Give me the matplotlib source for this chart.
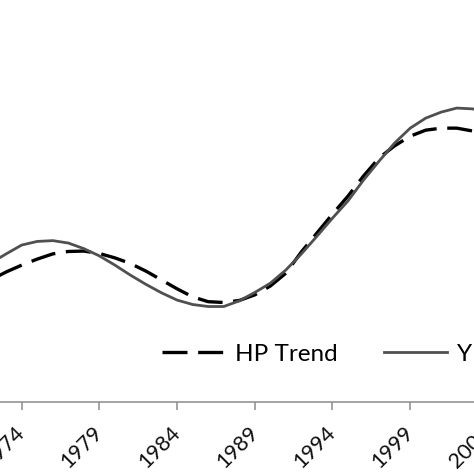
import matplotlib.pyplot as plt

plt.rcParams['font.family'] = ['Lato', 'DejaVu Sans']

# -----------------------------
# Data (arbitrary units)
# -----------------------------
years = list(range(1972, 2006))
y_actual = [3.45, 3.68, 3.90, 3.99, 4.01, 3.95, 3.81, 3.63, 3.40, 3.15,
            2.92, 2.71, 2.53, 2.42, 2.37, 2.37, 2.51, 2.72, 2.95, 3.28,
            3.68, 4.12, 4.57, 5.00, 5.52, 5.99, 6.44, 6.81, 7.06, 7.21,
            7.31, 7.29, 7.21, 7.06]
hp_trend = [3.03, 3.23, 3.40, 3.55, 3.68, 3.74, 3.75, 3.69, 3.58, 3.44,
            3.25, 3.03, 2.81, 2.61, 2.49, 2.47, 2.52, 2.66, 2.88, 3.20,
            3.73, 4.20, 4.67, 5.12, 5.62, 6.07, 6.37, 6.61, 6.76, 6.81,
            6.81, 6.74, 6.64, 6.51]
tick_years = list(range(1974, 2005, 5))

# -----------------------------
# Plot
# -----------------------------
fig = plt.figure(figsize=(4.74, 4.74), dpi=100)
# axes run past the figure edges: the picture is a crop of a wider chart
ax = fig.add_axes([-0.08536, 0.1525, 1.2458, 0.8475])

ax.plot(years, hp_trend, color='black', lw=2.4, dashes=(7.5, 3.2), label='HP Trend')
ax.plot(years, y_actual, color='#505050', lw=2.0, label='Y')

ax.set_xlim(1970, 2008)
ax.set_ylim(0, 10)
ax.set_xticks(tick_years)
ax.set_xticklabels([str(t) for t in tick_years], rotation=45, ha='right',
                   va='center', rotation_mode='anchor', fontsize=15.5)
ax.set_yticks([])

for side in ['top', 'left', 'right']:
    ax.spines[side].set_visible(False)
ax.spines['bottom'].set_color('#8c8c8c')
ax.spines['bottom'].set_linewidth(1.1)
ax.tick_params(axis='x', direction='out', length=6, width=1.1,
               color='#8c8c8c', pad=14, labelcolor='#111111')

ax.legend(loc='center left', bbox_to_anchor=(0.316, 0.2530),
          bbox_transform=fig.transFigure, ncol=2, frameon=False,
          fontsize=17.5, handlelength=2.6, handletextpad=0.4,
          columnspacing=1.9, borderpad=0)

fig.savefig('out.png', dpi=100)
plt.close()
